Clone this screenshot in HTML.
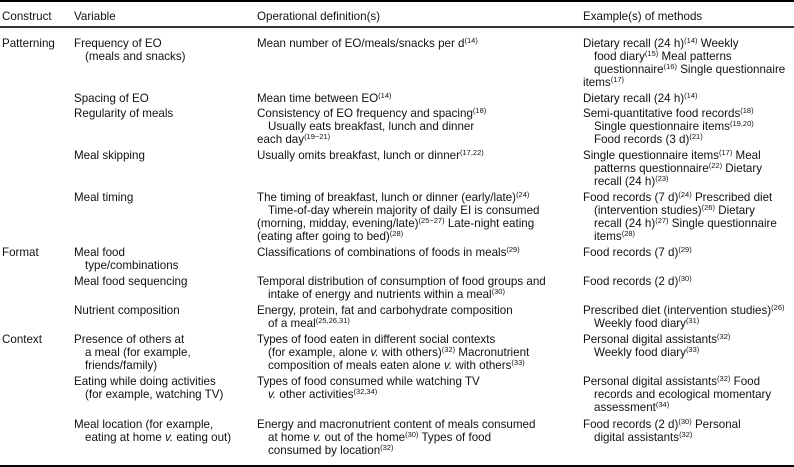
<!DOCTYPE html>
<html><head><meta charset="utf-8"><style>
html,body{margin:0;padding:0;background:#fff;}
body{width:794px;height:467px;position:relative;overflow:hidden;font-family:"Liberation Sans",Arial,sans-serif;color:#111;font-size:11.6px;}
.c{position:absolute;white-space:nowrap;line-height:13px;}
.c div{height:13px;}
.i{padding-left:11px;}
sup{font-size:7.5px;vertical-align:0;position:relative;top:-4px;line-height:0;}
.r{position:absolute;left:0;width:794px;background:#000;}
</style></head><body>
<div class="r" style="top:0;height:2px"></div>
<div class="r" style="top:26px;height:1.5px;background:#333"></div>
<div class="r" style="top:465px;height:2px"></div>

<div class="c" style="left:2px;top:9.5px">Construct</div>
<div class="c" style="left:74px;top:9.5px">Variable</div>
<div class="c" style="left:257px;top:9.5px">Operational definition(s)</div>
<div class="c" style="left:583px;top:9.5px">Example(s) of methods</div>

<!-- R1 -->
<div class="c" style="left:2px;top:36.5px">Patterning</div>
<div class="c" style="left:74px;top:36.5px"><div>Frequency of EO</div><div class="i">(meals and snacks)</div></div>
<div class="c" style="left:257px;top:36.5px"><div>Mean number of EO/meals/snacks per d<sup>(14)</sup></div></div>
<div class="c" style="left:583px;top:36.5px"><div>Dietary recall (24 h)<sup>(14)</sup> Weekly</div><div class="i">food diary<sup>(15)</sup> Meal patterns</div><div class="i">questionnaire<sup>(16)</sup> Single questionnaire</div><div>items<sup>(17)</sup></div></div>

<!-- R2 -->
<div class="c" style="left:74px;top:91.5px">Spacing of EO</div>
<div class="c" style="left:257px;top:91.5px">Mean time between EO<sup>(14)</sup></div>
<div class="c" style="left:583px;top:91.5px">Dietary recall (24 h)<sup>(14)</sup></div>

<!-- R3 -->
<div class="c" style="left:74px;top:106.5px">Regularity of meals</div>
<div class="c" style="left:257px;top:106.5px"><div>Consistency of EO frequency and spacing<sup>(18)</sup></div><div class="i">Usually eats breakfast, lunch and dinner</div><div>each day<sup>(19&#8722;21)</sup></div></div>
<div class="c" style="left:583px;top:106.5px"><div>Semi-quantitative food records<sup>(18)</sup></div><div class="i">Single questionnaire items<sup>(19,20)</sup></div><div class="i">Food records (3 d)<sup>(21)</sup></div></div>

<!-- R4 -->
<div class="c" style="left:74px;top:148.5px">Meal skipping</div>
<div class="c" style="left:257px;top:148.5px">Usually omits breakfast, lunch or dinner<sup>(17,22)</sup></div>
<div class="c" style="left:583px;top:148.5px"><div>Single questionnaire items<sup>(17)</sup> Meal</div><div class="i">patterns questionnaire<sup>(22)</sup> Dietary</div><div class="i">recall (24 h)<sup>(23)</sup></div></div>

<!-- R5 -->
<div class="c" style="left:74px;top:190.5px">Meal timing</div>
<div class="c" style="left:257px;top:190.5px"><div>The timing of breakfast, lunch or dinner (early/late)<sup>(24)</sup></div><div class="i">Time-of-day wherein majority of daily EI is consumed</div><div>(morning, midday, evening/late)<sup>(25&#8722;27)</sup> Late-night eating</div><div>(eating after going to bed)<sup>(28)</sup></div></div>
<div class="c" style="left:583px;top:190.5px"><div>Food records (7 d)<sup>(24)</sup> Prescribed diet</div><div class="i">(intervention studies)<sup>(26)</sup> Dietary</div><div class="i">recall (24 h)<sup>(27)</sup> Single questionnaire</div><div class="i">items<sup>(28)</sup></div></div>

<!-- R6 -->
<div class="c" style="left:2px;top:245.5px">Format</div>
<div class="c" style="left:74px;top:245.5px"><div>Meal food</div><div class="i">type/combinations</div></div>
<div class="c" style="left:257px;top:245.5px">Classifications of combinations of foods in meals<sup>(29)</sup></div>
<div class="c" style="left:583px;top:245.5px">Food records (7 d)<sup>(29)</sup></div>

<!-- R7 -->
<div class="c" style="left:74px;top:275px">Meal food sequencing</div>
<div class="c" style="left:257px;top:275px"><div>Temporal distribution of consumption of food groups and</div><div class="i">intake of energy and nutrients within a meal<sup>(30)</sup></div></div>
<div class="c" style="left:583px;top:275px">Food records (2 d)<sup>(30)</sup></div>

<!-- R8 -->
<div class="c" style="left:74px;top:304px">Nutrient composition</div>
<div class="c" style="left:257px;top:304px"><div>Energy, protein, fat and carbohydrate composition</div><div class="i">of a meal<sup>(25,26,31)</sup></div></div>
<div class="c" style="left:583px;top:304px"><div>Prescribed diet (intervention studies)<sup>(26)</sup></div><div class="i">Weekly food diary<sup>(31)</sup></div></div>

<!-- R9 -->
<div class="c" style="left:2px;top:333px">Context</div>
<div class="c" style="left:74px;top:333px"><div>Presence of others at</div><div class="i">a meal (for example,</div><div class="i">friends/family)</div></div>
<div class="c" style="left:257px;top:333px"><div>Types of food eaten in different social contexts</div><div class="i">(for example, alone <i>v.</i> with others)<sup>(32)</sup> Macronutrient</div><div class="i">composition of meals eaten alone <i>v.</i> with others<sup>(33)</sup></div></div>
<div class="c" style="left:583px;top:333px"><div>Personal digital assistants<sup>(32)</sup></div><div class="i">Weekly food diary<sup>(33)</sup></div></div>

<!-- R10 -->
<div class="c" style="left:74px;top:375px"><div>Eating while doing activities</div><div class="i">(for example, watching TV)</div></div>
<div class="c" style="left:257px;top:375px"><div>Types of food consumed while watching TV</div><div class="i"><i>v.</i> other activities<sup>(32,34)</sup></div></div>
<div class="c" style="left:583px;top:375px"><div>Personal digital assistants<sup>(32)</sup> Food</div><div class="i">records and ecological momentary</div><div class="i">assessment<sup>(34)</sup></div></div>

<!-- R11 -->
<div class="c" style="left:74px;top:418px"><div>Meal location (for example,</div><div class="i">eating at home <i>v.</i> eating out)</div></div>
<div class="c" style="left:257px;top:418px"><div>Energy and macronutrient content of meals consumed</div><div class="i">at home <i>v.</i> out of the home<sup>(30)</sup> Types of food</div><div class="i">consumed by location<sup>(32)</sup></div></div>
<div class="c" style="left:583px;top:418px"><div>Food records (2 d)<sup>(30)</sup> Personal</div><div class="i">digital assistants<sup>(32)</sup></div></div>
</body></html>
